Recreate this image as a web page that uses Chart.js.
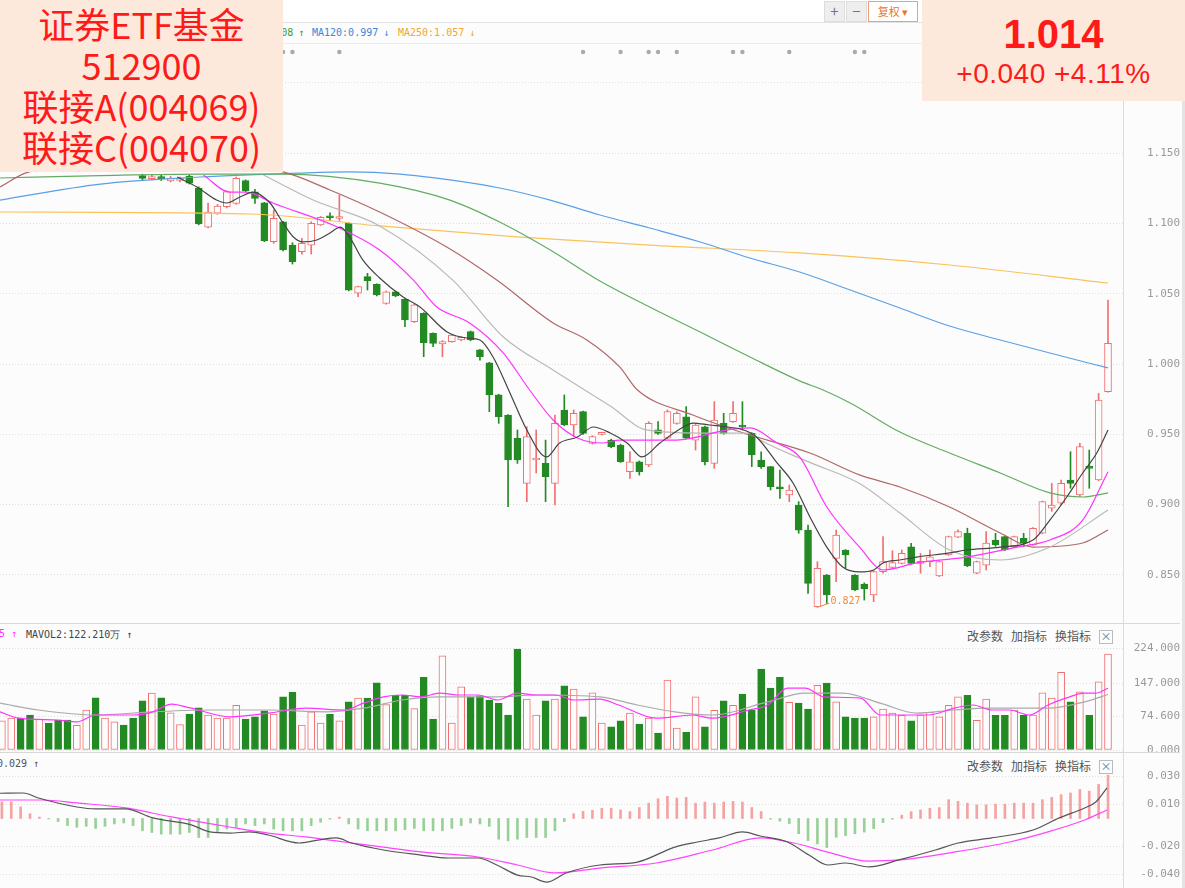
<!DOCTYPE html>
<html>
<head>
<meta charset="utf-8">
<script src="https://cdn.jsdelivr.net/npm/chart.js@4.4.0/dist/chart.umd.min.js"></script>
<style>
  body { margin: 0; width: 1185px; height: 888px; background: #fcfcfc; position: relative; overflow: hidden; font-family: "Noto Sans CJK SC", sans-serif; }
  canvas { position: absolute; left: 0; }
  .abs { position: absolute; white-space: nowrap; }
  .hline { position: absolute; height: 1px; background: #e3e3e3; }
  .vline { position: absolute; width: 1px; background: #dcdcdc; }
  .mono { font-family: "DejaVu Sans Mono", monospace; font-size: 10px; }
  .btns { position: absolute; left: 967px; font-size: 12px; color: #555; }
  .btns span { margin-right: 8px; }
  .xbox { display: inline-block; width: 12px; height: 12px; line-height: 11px; border: 1px solid #bbb; text-align: center; font-size: 11px; color: #777; }
  #titleBox { left: 0; top: 0; width: 283px; height: 172px; background: #fde8dc; color: #ff1a1a; font-size: 36px; line-height: 41px; text-align: center; padding-top: 3px; box-sizing: border-box; z-index: 5; }
  #priceBox { left: 922px; top: 0; width: 263px; height: 101px; background: #fde8dc; color: #ff1a1a; text-align: center; z-index: 5; }
</style>
</head>
<body>
<div class="abs" style="left:0;top:0;width:1185px;height:22px;background:#fff;"></div>
<div class="hline" style="left:0;top:22px;width:1123px;"></div>
<div class="hline" style="left:0;top:43px;width:1123px;background:#ececec"></div>
<div class="abs" style="left:824px;top:1px;width:19px;height:19px;background:#eee;border:1px solid #ddd;color:#777;font-size:15px;line-height:18px;text-align:center">+</div>
<div class="abs" style="left:846px;top:1px;width:19px;height:19px;background:#eee;border:1px solid #ddd;color:#777;font-size:15px;line-height:18px;text-align:center">−</div>
<div class="abs" style="left:868px;top:1px;width:48px;height:19px;background:#fff;border:1px solid #f0a070;color:#e8742c;font-size:11px;line-height:19px;text-align:center">复权 ▾</div>

<div class="abs mono" style="left:-40px;top:27px;color:#333">MA30:0.882<span style="margin-left:4px">↑</span></div>
<div class="abs mono" style="left:233px;top:27px;color:#3a9a3a">MA60:0.908<span style="margin-left:5px">↑</span></div>
<div class="abs mono" style="left:312px;top:27px;color:#3b86d8">MA120:0.997<span style="margin-left:5px">↓</span></div>
<div class="abs mono" style="left:398px;top:27px;color:#f0a830">MA250:1.057<span style="margin-left:5px">↓</span></div>

<canvas id="priceChart" width="1180" height="603" style="top:22px"></canvas>
<div class="hline" style="left:0;top:623px;width:1180px;background:#d8d8d8"></div>
<div class="abs mono" style="left:-1px;top:628px;color:#ff33ff">5 ↑</div>
<div class="abs mono" style="left:26px;top:628px;color:#444">MAVOL2:122.210万 ↑</div>
<div class="btns" style="top:627px"><span>改参数</span><span>加指标</span><span>换指标</span><span class="xbox">×</span></div>
<canvas id="volChart" width="1180" height="127" style="top:625px"></canvas>
<div class="hline" style="left:0;top:752px;width:1180px;background:#d8d8d8"></div>
<div class="abs mono" style="left:-3px;top:758px;color:#555">0.029 ↑</div>
<div class="btns" style="top:757px"><span>改参数</span><span>加指标</span><span>换指标</span><span class="xbox">×</span></div>
<canvas id="macdChart" width="1180" height="136" style="top:752px"></canvas>
<div class="vline" style="left:1123px;top:22px;height:866px"></div>
<div class="vline" style="left:1182px;top:0;height:888px;width:3px;background:#e4e4e4"></div>

<div id="titleBox" class="abs">证券ETF基金<br>512900<br>联接A(004069)<br>联接C(004070)</div>
<div id="priceBox" class="abs">
  <div style="font-size:40px;font-weight:bold;line-height:48px;margin-top:10px;font-family:'Liberation Sans',Arial,sans-serif">1.014</div>
  <div style="font-size:28px;line-height:32px;letter-spacing:0.5px;font-family:'Liberation Sans',Arial,sans-serif">+0.040&nbsp;+4.11%</div>
</div>

<script>
// daily candles (oldest -> newest)
const opens = [1.1400,1.1445,1.1500,1.1475,1.1455,1.1550,1.1525,1.1490,1.1455,1.1500,1.1525,1.1465,1.1485,1.1505,1.1450,
  1.1340,1.1318,1.1330,1.1302,1.1305,1.1337,1.1252,1.0974,1.1072,1.1119,1.1143,1.1304,1.1225,1.1147,1.0870,
  1.1012,1.0846,1.0799,1.0846,1.0989,1.1050,1.1035,1.1000,1.0503,1.0621,1.0567,1.0431,1.0514,1.0460,1.0301,
  1.0361,1.0218,1.0142,1.0159,1.0171,1.0230,1.0100,1.0009,0.9780,0.9637,0.9471,0.9151,0.9317,0.9293,0.9151,
  0.9673,0.9566,0.9661,0.9436,0.9500,0.9459,0.9424,0.9234,0.9305,0.9282,0.9531,0.9473,0.9578,0.9625,0.9459,
  0.9554,0.9293,0.9578,0.9590,0.9566,0.9507,0.9317,0.9270,0.9127,0.9068,0.8997,0.8819,0.8274,0.8499,0.8617,
  0.8677,0.8499,0.8435,0.8357,0.8523,0.8554,0.8582,0.8700,0.8582,0.8594,0.8492,0.8642,0.8768,0.8796,0.8512,
  0.8570,0.8748,0.8772,0.8701,0.8760,0.8713,0.8796,0.8975,0.9011,0.9175,0.9068,0.9270,0.9175,0.9803];
const closes = [1.1440,1.1490,1.1470,1.1450,1.1540,1.1520,1.1490,1.1460,1.1500,1.1530,1.1470,1.1490,1.1510,1.1450,1.1400,
  1.1320,1.1330,1.1318,1.1323,1.1318,1.1287,1.0996,1.1081,1.1124,1.1226,1.1321,1.1232,1.1178,1.0877,1.1036,
  1.0811,1.0728,1.0858,1.1001,1.1043,1.1040,1.1043,1.0526,1.0550,1.0592,1.0491,1.0514,1.0484,1.0313,1.0420,
  1.0151,1.0147,1.0159,1.0206,1.0190,1.0171,1.0052,0.9780,0.9625,0.9317,0.9317,0.9483,0.9331,0.9198,0.9578,
  0.9566,0.9649,0.9507,0.9483,0.9510,0.9412,0.9305,0.9305,0.9234,0.9578,0.9507,0.9661,0.9649,0.9473,0.9566,
  0.9305,0.9602,0.9507,0.9649,0.9552,0.9353,0.9270,0.9127,0.9111,0.9104,0.8819,0.8440,0.8547,0.8357,0.8784,
  0.8642,0.8393,0.8400,0.8523,0.8594,0.8587,0.8653,0.8582,0.8594,0.8629,0.8594,0.8772,0.8808,0.8563,0.8594,
  0.8726,0.8713,0.8677,0.8772,0.8725,0.8832,0.9021,0.8997,0.9151,0.9151,0.9412,0.9258,0.9744,1.0147];
const highs = [1.1460,1.1510,1.1520,1.1490,1.1560,1.1575,1.1540,1.1500,1.1520,1.1550,1.1535,1.1505,1.1530,1.1515,1.1460,
  1.1350,1.1345,1.1345,1.1335,1.1330,1.1345,1.1260,1.1145,1.1135,1.1232,1.1330,1.1310,1.1242,1.1150,1.1095,
  1.1015,1.0863,1.0894,1.1012,1.1050,1.1075,1.1202,1.1005,1.0555,1.0645,1.0570,1.0520,1.0518,1.0465,1.0425,
  1.0365,1.0222,1.0166,1.0210,1.0195,1.0235,1.0105,1.0012,0.9785,0.9640,0.9531,0.9554,0.9531,0.9459,0.9637,
  0.9780,0.9673,0.9665,0.9490,0.9515,0.9465,0.9430,0.9376,0.9310,0.9590,0.9590,0.9673,0.9661,0.9697,0.9570,
  0.9558,0.9732,0.9649,0.9732,0.9732,0.9512,0.9376,0.9272,0.9246,0.9139,0.9021,0.8855,0.8594,0.8503,0.8819,
  0.8680,0.8503,0.8443,0.8528,0.8772,0.8672,0.8677,0.8724,0.8653,0.8677,0.8598,0.8776,0.8820,0.8832,0.8598,
  0.8808,0.8796,0.8776,0.8776,0.8796,0.8836,0.9025,0.9151,0.9175,0.9376,0.9436,0.9388,0.9791,1.0455];
const lows = [1.1390,1.1430,1.1455,1.1430,1.1440,1.1505,1.1470,1.1440,1.1445,1.1490,1.1455,1.1450,1.1475,1.1430,1.1385,
  1.1310,1.1310,1.1305,1.1295,1.1295,1.1280,1.0990,1.0967,1.1065,1.1110,1.1135,1.1225,1.1143,1.0870,1.0858,
  1.0805,1.0711,1.0782,1.0782,1.0985,1.1020,1.1020,1.0520,1.0479,1.0526,1.0485,1.0425,1.0478,1.0265,1.0295,
  1.0052,1.0123,1.0052,1.0155,1.0165,1.0165,1.0028,0.9661,0.9578,0.8985,0.9293,0.9021,0.9225,0.9021,0.8997,
  0.9560,0.9483,0.9500,0.9430,0.9495,0.9405,0.9300,0.9187,0.9210,0.9270,0.9500,0.9468,0.9572,0.9468,0.9388,
  0.9282,0.9258,0.9500,0.9585,0.9531,0.9270,0.9258,0.9104,0.9044,0.9021,0.8796,0.8368,0.8270,0.8297,0.8452,
  0.8547,0.8388,0.8321,0.8310,0.8512,0.8550,0.8578,0.8578,0.8512,0.8558,0.8488,0.8638,0.8764,0.8558,0.8508,
  0.8535,0.8703,0.8672,0.8697,0.8703,0.8709,0.8792,0.8952,0.8997,0.9116,0.9056,0.9116,0.9170,0.9800];

// volume, 万
const volumes = [64,70,70,77,68,59,66,66,54,88,115,70,62,55,70,108,125,115,82,56,
  79,93,77,70,70,98,68,73,86,79,117,127,55,84,59,79,64,106,114,114,
  148,100,120,120,91,160,68,207,59,139,117,119,110,103,77,222,112,77,108,112,
  141,134,73,126,59,51,64,81,57,70,37,154,48,39,117,51,87,108,98,123,
  88,178,136,160,105,103,90,142,147,106,73,70,70,73,90,81,76,64,77,83,
  73,98,117,120,65,112,76,76,88,77,77,126,114,171,106,128,76,150,211];
const volMa1 = [[-0.2,84],[1.8,70],[5.9,66],[8.0,62],[10.0,77],[14.1,77],[16.1,84],[18.1,101],[20.2,92],[24.3,73],
  [28.4,81],[32.4,92],[36.5,88],[38.6,103],[40.7,117],[42.7,121],[44.7,117],[46.7,125],[48.8,121],[50.8,121],
  [52.9,110],[55.0,125],[57.0,121],[59.0,121],[61.0,110],[63.8,112],[65.8,99],[69.8,70],[73.7,77],[75.8,70],
  [79.7,88],[81.7,99],[83.8,136],[85.7,136],[87.7,117],[91.6,114],[93.7,77],[95.7,77],[98.8,77],[101.6,92],
  [103.6,99],[105.6,88],[107.5,88],[109.6,77],[111.6,99],[113.5,114],[115.5,125],[116.7,125],[118.0,136]];
const volMa2 = [[-0.2,103],[3.9,88],[10.0,77],[16.1,84],[22.2,88],[28.4,88],[34.5,84],[38.6,92],[42.7,110],[46.7,117],
  [52.9,117],[57.0,121],[63.8,117],[67.8,99],[71.8,84],[75.8,77],[81.7,106],[85.7,125],[89.7,125],[93.7,103],
  [97.6,81],[101.6,88],[105.6,92],[111.6,92],[115.5,106],[118.0,122]];

// moving averages: [day, value]
const ma5 = [[18.7,1.1330],[20.8,1.1259],[22.9,1.1166],[24.0,1.1145],[25.4,1.1188],[26.8,1.1223],[28.6,1.1145],[30.0,1.1003],
  [31.1,1.0903],[32.1,1.0868],[33.6,1.0882],[35.0,1.0932],[36.1,1.0974],[37.1,1.0903],[38.5,1.0740],[40.3,1.0612],
  [42.8,1.0477],[44.6,1.0405],[47.5,1.0228],[49.6,1.0185],[51.0,1.0171],[52.4,1.0050],[54.2,0.9794],[56.0,0.9531],
  [58.1,0.9339],[59.5,0.9438],[61.4,0.9481],[63.1,0.9552],[64.9,0.9509],[66.7,0.9438],[68.3,0.9339],[70.2,0.9438],
  [72.7,0.9552],[73.7,0.9580],[75.5,0.9566],[77.4,0.9552],[79.1,0.9531],[80.5,0.9481],[82.7,0.9296],[84.4,0.9154],
  [86.2,0.8912],[88.0,0.8698],[89.7,0.8556],[91.5,0.8521],[93.0,0.8535],[94.0,0.8585],[95.8,0.8606],[97.6,0.8627],
  [101.1,0.8656],[102.9,0.8677],[106.5,0.8698],[110.0,0.8748],[111.8,0.8890],[113.6,0.9054],[115.3,0.9225],[116.8,0.9367],[118.0,0.9530]];
const ma10 = [[21.5,1.1344],[24.3,1.1223],[26.1,1.1223],[28.9,1.1145],[35.8,1.0974],[40.3,1.0811],[43.9,1.0597],[46.4,1.0405],
  [49.9,1.0292],[53.5,1.0078],[56.3,0.9815],[58.8,0.9602],[61.4,0.9474],[64.1,0.9438],[65.9,0.9459],[72.0,0.9459],
  [77.4,0.9531],[79.8,0.9545],[82.7,0.9438],[85.1,0.9339],[88.0,0.8983],[91.5,0.8698],[94.0,0.8535],[97.6,0.8585],
  [102.9,0.8627],[108.3,0.8698],[111.8,0.8748],[115.3,0.8890],[118.0,0.9234]];
const ma20 = [[27.9,1.1344],[33.2,1.1166],[40.3,1.0982],[48.1,1.0597],[53.5,1.0192],[58.8,0.9957],[64.9,0.9701],[68.8,0.9531],
  [74.5,0.9509],[79.8,0.9509],[80.9,0.9459],[86.2,0.9300],[91.5,0.9150],[95.8,0.8940],[101.1,0.8677],[106.5,0.8606],
  [111.8,0.8698],[118.0,0.8962]];
const ma30 = [[-0.2,1.1259],[2.5,1.1358],[10.5,1.1420],[20.8,1.1430],[30.0,1.1366],[35.0,1.1238],[40.3,1.1081],[47.5,1.0830],
  [52.8,1.0597],[58.8,1.0292],[62.4,1.0171],[65.9,0.9979],[67.8,0.9815],[73.7,0.9637],[79.1,0.9509],[86.2,0.9367],
  [91.5,0.9211],[95.8,0.9125],[101.1,0.8983],[106.5,0.8798],[110.0,0.8698],[115.3,0.8727],[118.0,0.8819]];
const ma60 = [[-0.2,1.1323],[10.5,1.1340],[21.1,1.1351],[30.0,1.1351],[40.3,1.1287],[47.8,1.1166],[53.1,1.1010],[58.5,1.0811],
  [63.8,1.0590],[69.1,1.0405],[74.5,1.0227],[79.8,1.0050],[85.1,0.9880],[87.6,0.9815],[90.5,0.9723],[95.8,0.9516],
  [101.1,0.9367],[106.5,0.9225],[111.8,0.9083],[115.3,0.9054],[118.0,0.9083]];
const ma120 = [[-0.2,1.1166],[10.5,1.1280],[21.1,1.1330],[31.8,1.1358],[37.1,1.1366],[42.5,1.1351],[47.8,1.1309],[53.1,1.1252],
  [58.5,1.1166],[63.8,1.1060],[69.1,1.0967],[74.5,1.0868],[79.8,1.0754],[85.1,1.0654],[90.5,1.0526],[95.8,1.0398],
  [101.1,1.0270],[106.5,1.0171],[111.8,1.0078],[118.0,0.9972]];
const ma250 = [[-0.2,1.1081],[26.5,1.1067],[40.3,1.0982],[55.3,1.0903],[69.1,1.0846],[85.1,1.0790],[101.1,1.0704],[118.0,1.0576]];

// MACD
const macdHist = [0.0119,0.0119,0.0083,0.0034,0.0010,-0.0003,-0.0022,-0.0051,-0.0063,-0.0056,
  -0.0071,-0.0056,-0.0039,-0.0032,-0.0051,-0.0088,-0.0100,-0.0112,-0.0112,-0.0112,
  -0.0100,-0.0136,-0.0136,-0.0100,-0.0075,-0.0063,-0.0039,-0.0051,-0.0039,-0.0075,
  -0.0088,-0.0088,-0.0088,-0.0051,-0.0027,-0.0005,0.0010,-0.0039,-0.0075,-0.0088,
  -0.0088,-0.0088,-0.0088,-0.0080,-0.0071,-0.0088,-0.0088,-0.0088,-0.0071,-0.0051,
  -0.0032,-0.0039,-0.0056,-0.0148,-0.0160,-0.0148,-0.0136,-0.0136,-0.0136,-0.0088,
  -0.0022,0.0034,0.0051,0.0058,0.0073,0.0073,0.0061,0.0049,0.0078,0.0109,
  0.0141,0.0158,0.0146,0.0151,0.0109,0.0117,0.0109,0.0117,0.0122,0.0117,
  0.0078,0.0049,-0.0005,-0.0019,-0.0036,-0.0109,-0.0158,-0.0182,-0.0207,-0.0134,
  -0.0122,-0.0109,-0.0097,-0.0073,-0.0029,-0.0005,0.0024,0.0049,0.0061,0.0073,
  0.0078,0.0134,0.0122,0.0109,0.0097,0.0097,0.0102,0.0102,0.0109,0.0109,
  0.0109,0.0134,0.0151,0.0170,0.0182,0.0207,0.0195,0.0243,0.0310];
const difLine = [[-0.2,0.0180],[2.3,0.0182],[3.9,0.0146],[8.0,0.0082],[10.0,0.0068],[13.2,0.0068],[16.1,0.0004],[20.2,-0.0046],
  [22.2,-0.0096],[24.3,-0.0104],[26.4,-0.0096],[28.4,-0.0118],[31.7,-0.0175],[33.7,-0.0154],[35.7,-0.0139],[37.3,-0.0175],
  [40.7,-0.0225],[44.7,-0.0261],[47.6,-0.0282],[50.8,-0.0282],[52.8,-0.0332],[55.0,-0.0404],[56.5,-0.0418],[58.1,-0.0454],
  [60.2,-0.0389],[63.8,-0.0332],[67.8,-0.0311],[71.8,-0.0204],[74.2,-0.0168],[76.5,-0.0139],[79.0,-0.0096],[80.9,-0.0125],
  [83.8,-0.0168],[86.1,-0.0261],[88.1,-0.0332],[90.0,-0.0318],[92.5,-0.0346],[95.7,-0.0296],[99.6,-0.0225],[102.0,-0.0175],
  [105.6,-0.0139],[110.0,-0.0082],[112.8,0.0004],[115.5,0.0075],[116.7,0.0118],[117.9,0.0218]];
const deaLine = [[-0.2,0.0132],[4.3,0.0132],[8.0,0.0111],[13.2,0.0075],[18.1,0.0011],[24.3,-0.0061],[28.4,-0.0104],[32.4,-0.0132],
  [36.5,-0.0168],[40.7,-0.0204],[44.7,-0.0239],[50.8,-0.0275],[55.0,-0.0332],[59.0,-0.0389],[63.8,-0.0354],[69.8,-0.0318],
  [75.8,-0.0225],[80.9,-0.0139],[84.5,-0.0175],[88.4,-0.0246],[92.5,-0.0304],[95.7,-0.0296],[101.7,-0.0239],[107.5,-0.0168],
  [111.6,-0.0096],[115.5,-0.0011],[117.9,0.0061]];

const priceTicks = [0.85, 0.90, 0.95, 1.00, 1.05, 1.10, 1.15, 1.20];
const volTicks = [0, 74.6, 147, 224];
const macdTicks = [-0.04, -0.02, 0.01, 0.03];
const eventDays = [30, 31, 36, 62, 66, 69, 70, 72, 78, 79, 84, 91, 92];

const RED = '#f07070';
const GREEN = '#238a23';
const HOLLOW = '#fcfcfc';
const days = closes.map((c, i) => i);
const up = closes.map((c, i) => c >= opens[i]);

function xAxis() {
  return { type: 'linear', min: -0.2, max: 119.6, offset: false, display: false };
}
function yAxis(min, max, ticks, digits) {
  return {
    position: 'right', min: min, max: max,
    afterBuildTicks: s => { s.ticks = ticks.map(v => ({ value: v })); },
    afterFit: s => { s.width = 57; s.paddingTop = 0; s.paddingBottom = 0; },
    grid: { color: '#dedede', drawTicks: false },
    border: { display: false, dash: [1, 2] },
    ticks: { color: '#9a9a9a', crossAlign: 'far', padding: 0,
      font: { family: 'DejaVu Sans Mono', size: 11 },
      callback: v => v.toFixed(digits) }
  };
}
function line(points, color, width) {
  return { type: 'line', data: points.map(p => ({ x: p[0], y: p[1] })), borderColor: color,
    borderWidth: width || 1.2, pointRadius: 0, cubicInterpolationMode: 'monotone', order: 0 };
}
const common = {
  responsive: false, animation: false, events: [],
  plugins: { legend: { display: false }, tooltip: { enabled: false } }
};

// gray event markers and the low label on the price panel
const markers = {
  id: 'markers',
  afterDatasetsDraw(chart) {
    const ctx = chart.ctx, xs = chart.scales.x, ys = chart.scales.y;
    ctx.save();
    ctx.fillStyle = '#aaa';
    eventDays.forEach(d => {
      ctx.beginPath();
      ctx.arc(xs.getPixelForValue(d), chart.chartArea.top + 8, 2.2, 0, Math.PI * 2);
      ctx.fill();
    });
    const lo = lows.indexOf(Math.min(...lows));
    const px = xs.getPixelForValue(lo), py = ys.getPixelForValue(lows[lo]);
    ctx.strokeStyle = '#f08a3c';
    ctx.beginPath(); ctx.moveTo(px, py); ctx.lineTo(px + 12, py - 4); ctx.stroke();
    ctx.fillStyle = '#f08a3c';
    ctx.font = '10px "DejaVu Sans Mono"';
    ctx.textBaseline = 'middle';
    ctx.fillText(Math.min(...lows).toFixed(3), px + 13, py - 6);
    ctx.restore();
  }
};

new Chart(document.getElementById('priceChart'), {
  type: 'bar',
  data: {
    datasets: [
      line(ma5, '#444444'), line(ma10, '#ff33ff'), line(ma20, '#b9b9b9'), line(ma30, '#b06868'),
      line(ma60, '#62ad62'), line(ma120, '#5aa0e6'), line(ma250, '#f9c35a'),
      { type: 'bar', data: days.map(i => ({ x: i, y: [opens[i], closes[i]] })),
        backgroundColor: days.map(i => up[i] ? HOLLOW : GREEN),
        borderColor: days.map(i => up[i] ? RED : GREEN),
        borderWidth: 1, borderSkipped: false, barThickness: 7, minBarLength: 2, grouped: false, order: 2 },
      { type: 'bar', data: days.map(i => ({ x: i, y: [lows[i], highs[i]] })),
        backgroundColor: days.map(i => up[i] ? RED : GREEN),
        barThickness: 1, grouped: false, order: 3 }
    ]
  },
  options: Object.assign({}, common, {
    layout: { padding: { top: 22, bottom: 3, left: 0, right: 0 } },
    scales: { x: xAxis(), y: yAxis(0.8165, 1.2276, priceTicks, 3) }
  }),
  plugins: [markers]
});

new Chart(document.getElementById('volChart'), {
  type: 'bar',
  data: {
    datasets: [
      line(volMa1, '#ff33ff'), line(volMa2, '#aaaaaa'),
      { type: 'bar', data: days.map(i => ({ x: i, y: volumes[i] })),
        backgroundColor: days.map(i => up[i] ? HOLLOW : GREEN),
        borderColor: days.map(i => up[i] ? RED : GREEN),
        borderWidth: 1, borderSkipped: false, barThickness: 7, grouped: false, order: 2 }
    ]
  },
  options: Object.assign({}, common, {
    layout: { padding: { top: 15, bottom: 2, left: 0, right: 0 } },
    scales: { x: xAxis(), y: yAxis(0, 242, volTicks, 3) }
  })
});

new Chart(document.getElementById('macdChart'), {
  type: 'bar',
  data: {
    datasets: [
      line(difLine, '#555555'), line(deaLine, '#ff44ff'),
      { type: 'bar', data: days.map(i => ({ x: i, y: macdHist[i] })),
        backgroundColor: days.map(i => macdHist[i] >= 0 ? '#f4a3a3' : '#98d098'),
        barThickness: 2, grouped: false, order: 2 }
    ]
  },
  options: Object.assign({}, common, {
    layout: { padding: { top: 18, bottom: 2, left: 0, right: 0 } },
    scales: { x: xAxis(), y: yAxis(-0.0482, 0.0346, macdTicks, 3) }
  })
});
</script>
</body>
</html>
